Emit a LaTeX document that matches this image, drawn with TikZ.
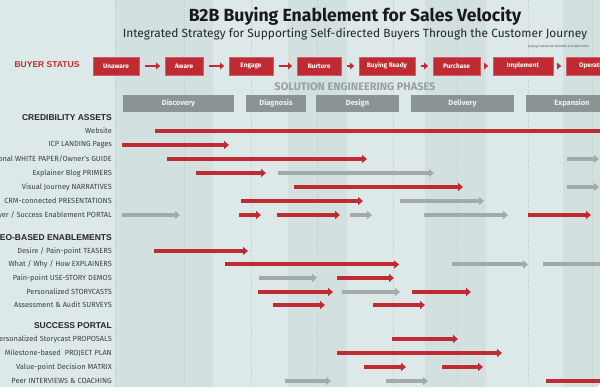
\documentclass[tikz,border=0pt]{standalone}
\usepackage{fontspec}
\setmainfont{Fira Sans}
\newfontfamily\arialf{Liberation Sans}
\usetikzlibrary{arrows.meta}
\definecolor{bg}{HTML}{D3E0E0}
\definecolor{bgl}{HTML}{DDE8E8}
\definecolor{brd}{HTML}{BF2A33}
\definecolor{bgr}{HTML}{A2ABAB}
\definecolor{phg}{HTML}{8A9494}
\definecolor{txt}{HTML}{3A4242}
\definecolor{dotc}{HTML}{BDCACA}
\definecolor{sepc}{HTML}{98A1A1}
\begin{document}
\begin{tikzpicture}[x=1pt,y=-1pt,
 status/.style={fill=brd, draw=brd!75!white, line width=0.6pt, minimum height=18pt, inner sep=0, text=white, font=\bfseries\fontsize{6.5}{7}\selectfont},
 phase/.style={fill=phg, minimum height=17pt, inner sep=0, text=white!88!phg, font=\bfseries\fontsize{7.5}{8}\selectfont},
 lbl/.style={anchor=east, text=txt, font=\fontsize{7.4}{8}\selectfont, inner sep=0},
 hdr/.style={anchor=east, text=black!85, font=\arialf\bfseries\fontsize{8.5}{10}\selectfont, inner sep=0},
 redbar/.style={draw=brd, line width=4pt, -{Triangle[length=5pt,width=8pt]}},
 redline/.style={draw=brd, line width=4pt},
 graybar/.style={draw=bgr, line width=4pt, -{Triangle[length=5pt,width=8pt]}},
 grayline/.style={draw=bgr, line width=4pt},
 sarrow/.style={draw=brd, line width=2pt, -{Triangle[length=4pt,width=6.5pt]}},
 dotline/.style={draw=dotc, line width=0.5pt, dotted},
]
\useasboundingbox (0,0) rectangle (600,390);
\clip (0,0) rectangle (600,390);
\fill[white] (0,0) rectangle (600,390);
\fill[bg, rounded corners=6pt] (-10,-10) rectangle (600.5,387);
% lighter bands
\begin{scope}
\clip[rounded corners=6pt] (-10,-10) rectangle (600.5,387);
\foreach \a/\b in {0/115, 213/288, 347/425, 486/563}
  \fill[bgl] (\a,-10) rectangle (\b,390);
\foreach \x in {115,184,251,317,393,457,528,592}
  \draw[dotline] (\x,0) -- (\x,387);
\end{scope}

% titles
\node[font=\bfseries\fontsize{17.6}{20}\selectfont, text=black!90] (title) at (355,16) {B2B Buying Enablement for Sales Velocity};
\node[font=\fontsize{11.9}{13}\selectfont, text=black!85] (subtitle) at (355,34) {Integrated Strategy for Supporting Self-directed Buyers Through the Customer Journey};
\node[anchor=west, inner sep=0, font=\fontsize{3}{3.5}\selectfont, text=black!70] (note) at (528,47) {Buying Enablement ACTIONS and OBJECTIVES};

% buyer status
\node[font=\arialf\bfseries\fontsize{8.5}{10}\selectfont, text=brd] (bs) at (47,65) {BUYER STATUS};
\node[status, minimum width=46pt] (s1) at (116,66) {Unaware};
\node[status, minimum width=38pt] (s2) at (184,66) {Aware};
\node[status, minimum width=44pt] (s3) at (251,66) {Engage};
\node[status, minimum width=44pt] (s4) at (319,66) {Nurture};
\node[status, minimum width=56pt] (s5) at (387,66) {Buying Ready};
\node[status, minimum width=47pt] (s6) at (456.5,66) {Purchase};
\node[status, minimum width=60pt] (s7) at (523,66) {Implement};
\node[status, minimum width=59pt] (s8) at (595.5,66) {Operations};
\foreach \a/\b in {s1/s2,s2/s3,s3/s4,s4/s5,s5/s6,s6/s7,s7/s8}
  \draw[sarrow] ([xshift=5.5pt]\a.east) -- ([xshift=-4.5pt]\b.west);

% phases
\node[font=\bfseries\fontsize{11}{12}\selectfont, text=sepc] (sep) at (355,87) {SOLUTION ENGINEERING PHASES};
\node[phase, minimum width=111pt] (p1) at (178.5,103.5) {Discovery};
\node[phase, minimum width=60pt] (p2) at (276,103.5) {Diagnosis};
\node[phase, minimum width=83pt] (p3) at (357.5,103.5) {Design};
\node[phase, minimum width=103pt] (p4) at (462.5,103.5) {Delivery};
\node[phase, minimum width=92pt] (p5) at (572,103.5) {Expansion};

% section: credibility assets
\node[hdr] (h1) at (112,118) {CREDIBILITY ASSETS};
\node[lbl] (r1) at (112,131) {Website};
\node[lbl] (r2) at (112,145) {ICP LANDING Pages};
\node[lbl] (r3) at (112,159) {Functional WHITE PAPER/Owner's GUIDE};
\node[lbl] (r4) at (112,173) {Explainer Blog PRIMERS};
\node[lbl] (r5) at (112,187) {Visual Journey NARRATIVES};
\node[lbl] (r6) at (112,201) {CRM-connected PRESENTATIONS};
\node[lbl] (r7) at (112,215) {Buyer / Success Enablement PORTAL};

\draw[redline] (155,131) -- (605,131);
\draw[redbar] (122,145) -- (229,145);
\draw[redbar] (167,159) -- (367,159);
\draw[graybar] (567,159) -- (599,159);
\draw[redbar] (196,173) -- (266,173);
\draw[graybar] (278,173) -- (434,173);
\draw[redbar] (294,187) -- (463,187);
\draw[graybar] (567,187) -- (599,187);
\draw[redbar] (241,201) -- (363,201);
\draw[graybar] (400,201) -- (484,201);
\draw[graybar] (122,215) -- (180,215);
\draw[redbar] (239,215) -- (261,215);
\draw[redbar] (277,215) -- (340,215);
\draw[graybar] (350,215) -- (372,215);
\draw[graybar] (424,215) -- (508,215);
\draw[redbar] (528,215) -- (591,215);

% section: video-based enablements
\node[hdr] (h2) at (112,238) {VIDEO-BASED ENABLEMENTS};
\node[lbl] (v1) at (112,251) {Desire / Pain-point TEASERS};
\node[lbl] (v2) at (112,264.5) {What / Why / How EXPLAINERS};
\node[lbl] (v3) at (112,278) {Pain-point USE-STORY DEMOS};
\node[lbl] (v4) at (112,292) {Personalized STORYCASTS};
\node[lbl] (v5) at (112,305) {Assessment \& Audit SURVEYS};

\draw[redbar] (154,251) -- (248,251);
\draw[redbar] (225,264.5) -- (399,264.5);
\draw[graybar] (452,264.5) -- (528,264.5);
\draw[grayline] (543,264.5) -- (605,264.5);
\draw[graybar] (259,278) -- (317,278);
\draw[redbar] (337,278) -- (394,278);
\draw[redbar] (258,292) -- (333,292);
\draw[graybar] (342,292) -- (400,292);
\draw[redbar] (412,292) -- (471,292);
\draw[redbar] (273,305) -- (325,305);
\draw[redbar] (373,305) -- (425,305);

% section: success portal
\node[hdr] (h3) at (112,326) {SUCCESS PORTAL};
\node[lbl] (q1) at (112,339) {Personalized Storycast PROPOSALS};
\node[lbl] (q2) at (112,353) {Milestone-based\ \ PROJECT PLAN};
\node[lbl] (q3) at (112,367) {Value-point Decision MATRIX};
\node[lbl] (q4) at (112,381) {Peer INTERVIEWS \& COACHING};

\draw[redbar] (392,339) -- (458,339);
\draw[redbar] (337,353) -- (502,353);
\draw[redbar] (364,367) -- (406,367);
\draw[redbar] (442,367) -- (483,367);
\draw[graybar] (285,381) -- (331,381);
\draw[graybar] (386,381) -- (428,381);
\draw[redline] (546,381) -- (605,381);
\end{tikzpicture}
\end{document}
